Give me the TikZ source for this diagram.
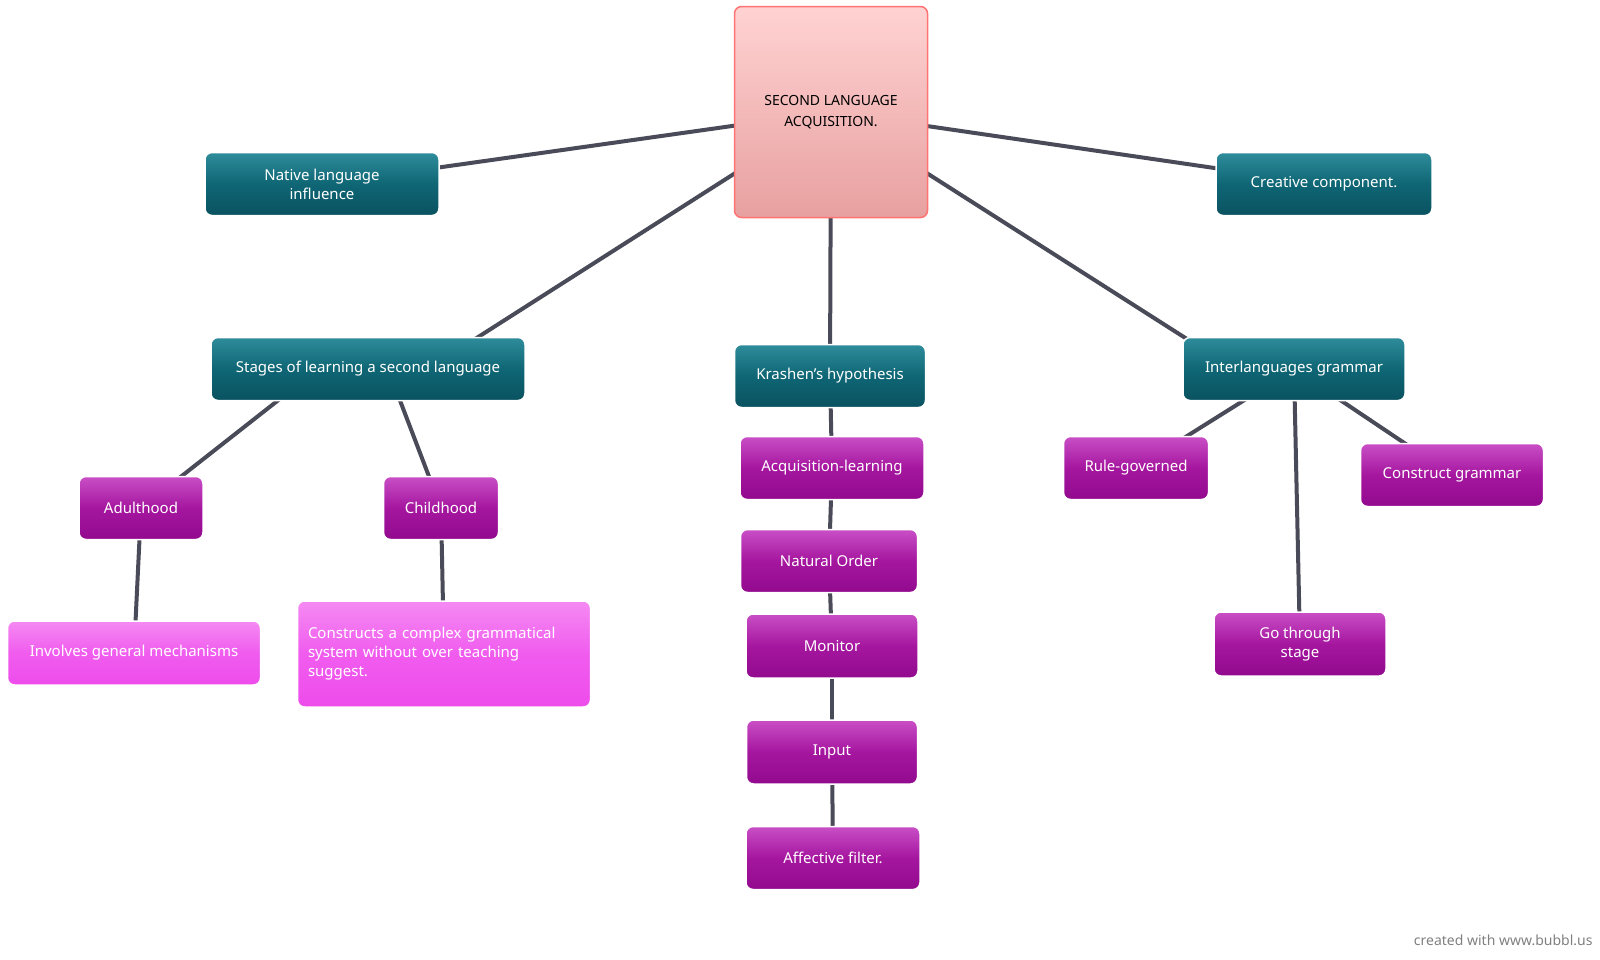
\documentclass[tikz,border=0pt]{standalone}
\usepackage{fontspec}
\setmainfont{Noto Sans}
\usetikzlibrary{backgrounds}
\definecolor{tTop}{HTML}{2E8C9A}\definecolor{tMid}{HTML}{0F6675}\definecolor{tBot}{HTML}{0A5260}
\definecolor{mTop}{HTML}{C94FC6}\definecolor{mMid}{HTML}{A5169F}\definecolor{mBot}{HTML}{920A8E}
\definecolor{pTop}{HTML}{F58AF3}\definecolor{pMid}{HTML}{F05CEE}\definecolor{pBot}{HTML}{EE4CEC}
\definecolor{edge}{HTML}{4A4B58}
\begin{document}
\begin{tikzpicture}[x=1pt,y=-1pt,
 box/.style={draw=white,line width=1.5pt,rounded corners=7pt,text=white,align=center,font=\fontsize{15}{19}\selectfont,inner sep=2pt},
 tl/.style={box,top color=tTop,bottom color=tBot,middle color=tMid},
 mg/.style={box,top color=mTop,bottom color=mBot,middle color=mMid},
 pk/.style={box,top color=pTop,bottom color=pBot,middle color=pMid},
 ln/.style={line width=4pt,draw=edge}]
\useasboundingbox (0,0) rectangle (1600,959);
\def\bx#1#2#3#4#5#6{\node[#2,minimum width=#5,minimum height=#6] (#1) at (#3,#4)}
\node[box,draw=red!40!pink,top color={rgb,255:red,255;green,210;blue,210},bottom color={rgb,255:red,232;green,160;blue,160},text=black,minimum width=193,minimum height=211,font=\fontsize{14}{21}\selectfont] (root) at (831,112) {SECOND LANGUAGE\\ACQUISITION.};
\bx{nat}{tl}{322}{184}{234}{63}{Native language\\influence};
\bx{cre}{tl}{1324}{184}{216}{63}{Creative component.};
\bx{sta}{tl}{368}{369}{314}{63}{Stages of learning a second language};
\bx{kra}{tl}{830}{376}{191}{63}{Krashen's hypothesis};
\bx{int}{tl}{1294}{369}{222}{63}{Interlanguages grammar};
\bx{adu}{mg}{141}{508}{124}{63}{Adulthood};
\bx{chi}{mg}{441}{508}{115}{63}{Childhood};
\bx{inv}{pk}{134}{653}{253}{64}{Involves general mechanisms};
\node[pk,minimum width=293,minimum height=106,align=left,text width=272] (con) at (444,654) {\hyphenpenalty=10000 Constructs a complex grammatical\\system without over teaching\\suggest.};
\bx{acq}{mg}{832}{468}{184}{63}{Acquisition-learning};
\bx{nato}{mg}{829}{561}{177}{63}{Natural Order};
\bx{mon}{mg}{832}{646}{172}{64}{Monitor};
\bx{inp}{mg}{832}{752}{171}{64}{Input};
\bx{aff}{mg}{833}{858}{174}{63}{Affective filter.};
\bx{rul}{mg}{1136}{468}{145}{63}{Rule-governed};
\bx{cgr}{mg}{1452}{475}{183}{63}{Construct grammar};
\bx{gos}{mg}{1300}{644}{172}{64}{Go through\\stage};
\node[font=\fontsize{14}{16}\selectfont,text=black!50,anchor=east] (cr) at (1596,940) {created with www.bubbl.us};
\begin{scope}[on background layer]
\draw[ln] (root.center) -- (nat.center);
\draw[ln] (root.center) -- (cre.center);
\draw[ln] (root.center) -- (kra.center);
\draw[ln] (root.center) -- ([xshift=60]sta.center);
\draw[ln] (root.center) -- ([xshift=-60]int.center);
\draw[ln] ([xshift=-50]sta.center) -- (adu.center);
\draw[ln] ([xshift=20]sta.center) -- (chi.center);
\draw[ln] (adu.center) -- (inv.center);
\draw[ln] (chi.center) -- (con.center);
\draw[ln] (kra.center) -- (acq.center);
\draw[ln] (acq.center) -- (nato.center);
\draw[ln] (nato.center) -- (mon.center);
\draw[ln] (mon.center) -- (inp.center);
\draw[ln] (inp.center) -- (aff.center);
\draw[ln] (int.center) -- (rul.center);
\draw[ln] (int.center) -- (cgr.center);
\draw[ln] (int.center) -- (gos.center);
\end{scope}
\end{tikzpicture}
\end{document}
